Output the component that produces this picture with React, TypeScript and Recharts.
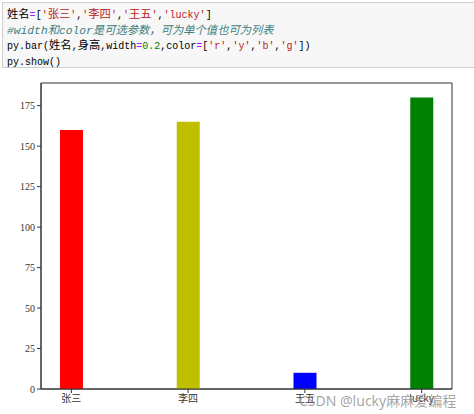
import { BarChart, Bar, XAxis, YAxis, Cell, ReferenceArea } from "recharts";

const names = ["张三", "李四", "王五", "lucky"];
const heights = [160, 165, 10, 180];
const colors = ["#ff0000", "#bfbf00", "#0000ff", "#008000"];
const yTicks = [0, 25, 50, 75, 100, 125, 150, 175];

const data = names.map((name, i) => ({ pos: i, name, height: heights[i] }));

const codeFont = '"Liberation Mono", "Noto Sans CJK SC", monospace';
const tickStyle = { fontFamily: '"Liberation Serif", "Noto Sans CJK SC", serif', fontSize: 10, fill: "#333" };

// CJK glyphs in the notebook font are a bit wider than two mono cells
const C = ({ children }: { children: string }) => <span style={{ fontSize: 11.3 }}>{children}</span>;
const S = ({ children }: { children: any }) => <span style={{ color: "#ba2121" }}>{children}</span>;
const Eq = () => <span style={{ color: "#aa22ff" }}>=</span>;

export default function App() {
  return (
    <div style={{ position: "absolute", left: 0, top: 0, width: 474, height: 414, background: "#fff" }}>
      <div
        style={{
          position: "absolute",
          left: 2,
          top: 2,
          width: 472,
          height: 66,
          background: "#f7f7f7",
          border: "1px solid #cfcfcf",
          borderRight: "none",
          fontFamily: codeFont,
          fontSize: 10,
          lineHeight: "15.7px",
          padding: "5px 0 0 4px",
          boxSizing: "border-box",
          color: "#000",
          whiteSpace: "pre",
        }}
      >
        <div>
          <C>姓名</C><Eq />[<S>'<C>张三</C>'</S>,<S>'<C>李四</C>'</S>,<S>'<C>王五</C>'</S>,<S>'lucky'</S>]
        </div>
        <div style={{ color: "#408080", fontStyle: "italic", fontSize: 11.3 }}>#width和color是可选参数，可为单个值也可为列表</div>
        <div>
          py.bar(<C>姓名</C>,<C>身高</C>,width<Eq /><span style={{ color: "#008000" }}>0.2</span>,color<Eq />[
          <S>'r'</S>,<S>'y'</S>,<S>'b'</S>,<S>'g'</S>])
        </div>
        <div>py.show()</div>
      </div>

      <div style={{ position: "absolute", left: 0, top: 0 }}>
        <BarChart width={474} height={414} data={data} margin={{ top: 83, right: 22, bottom: 5, left: 6 }}>
          <XAxis
            dataKey="pos"
            type="number"
            domain={[-0.26, 3.26]}
            allowDataOverflow
            ticks={[0, 1, 2, 3]}
            tickFormatter={(v: number) => names[v]}
            interval={0}
            height={20}
            tickSize={4}
            stroke="#333"
            tick={{ ...tickStyle, fontFamily: '"Noto Sans CJK SC", sans-serif' }}
          />
          <YAxis domain={[0, 189]} ticks={yTicks} allowDataOverflow width={35} tickSize={4} stroke="#333" tick={tickStyle} />
          <Bar dataKey="height" barSize={23} isAnimationActive={false}>
            {data.map((d, i) => (
              <Cell key={d.name} fill={colors[i]} />
            ))}
          </Bar>
          <ReferenceArea x1={-0.26} x2={3.26} y1={0} y2={189} fill="none" stroke="#333" strokeWidth={1} fillOpacity={0} ifOverflow="visible" />
        </BarChart>
      </div>

      <div
        style={{
          position: "absolute",
          left: 299,
          top: 390,
          fontFamily: '"Noto Sans", "Noto Sans CJK SC", sans-serif',
          fontSize: 14,
          color: "rgba(150,150,150,0.85)",
          whiteSpace: "nowrap",
        }}
      >
        CSDN @lucky麻麻爱编程
      </div>
    </div>
  );
}
